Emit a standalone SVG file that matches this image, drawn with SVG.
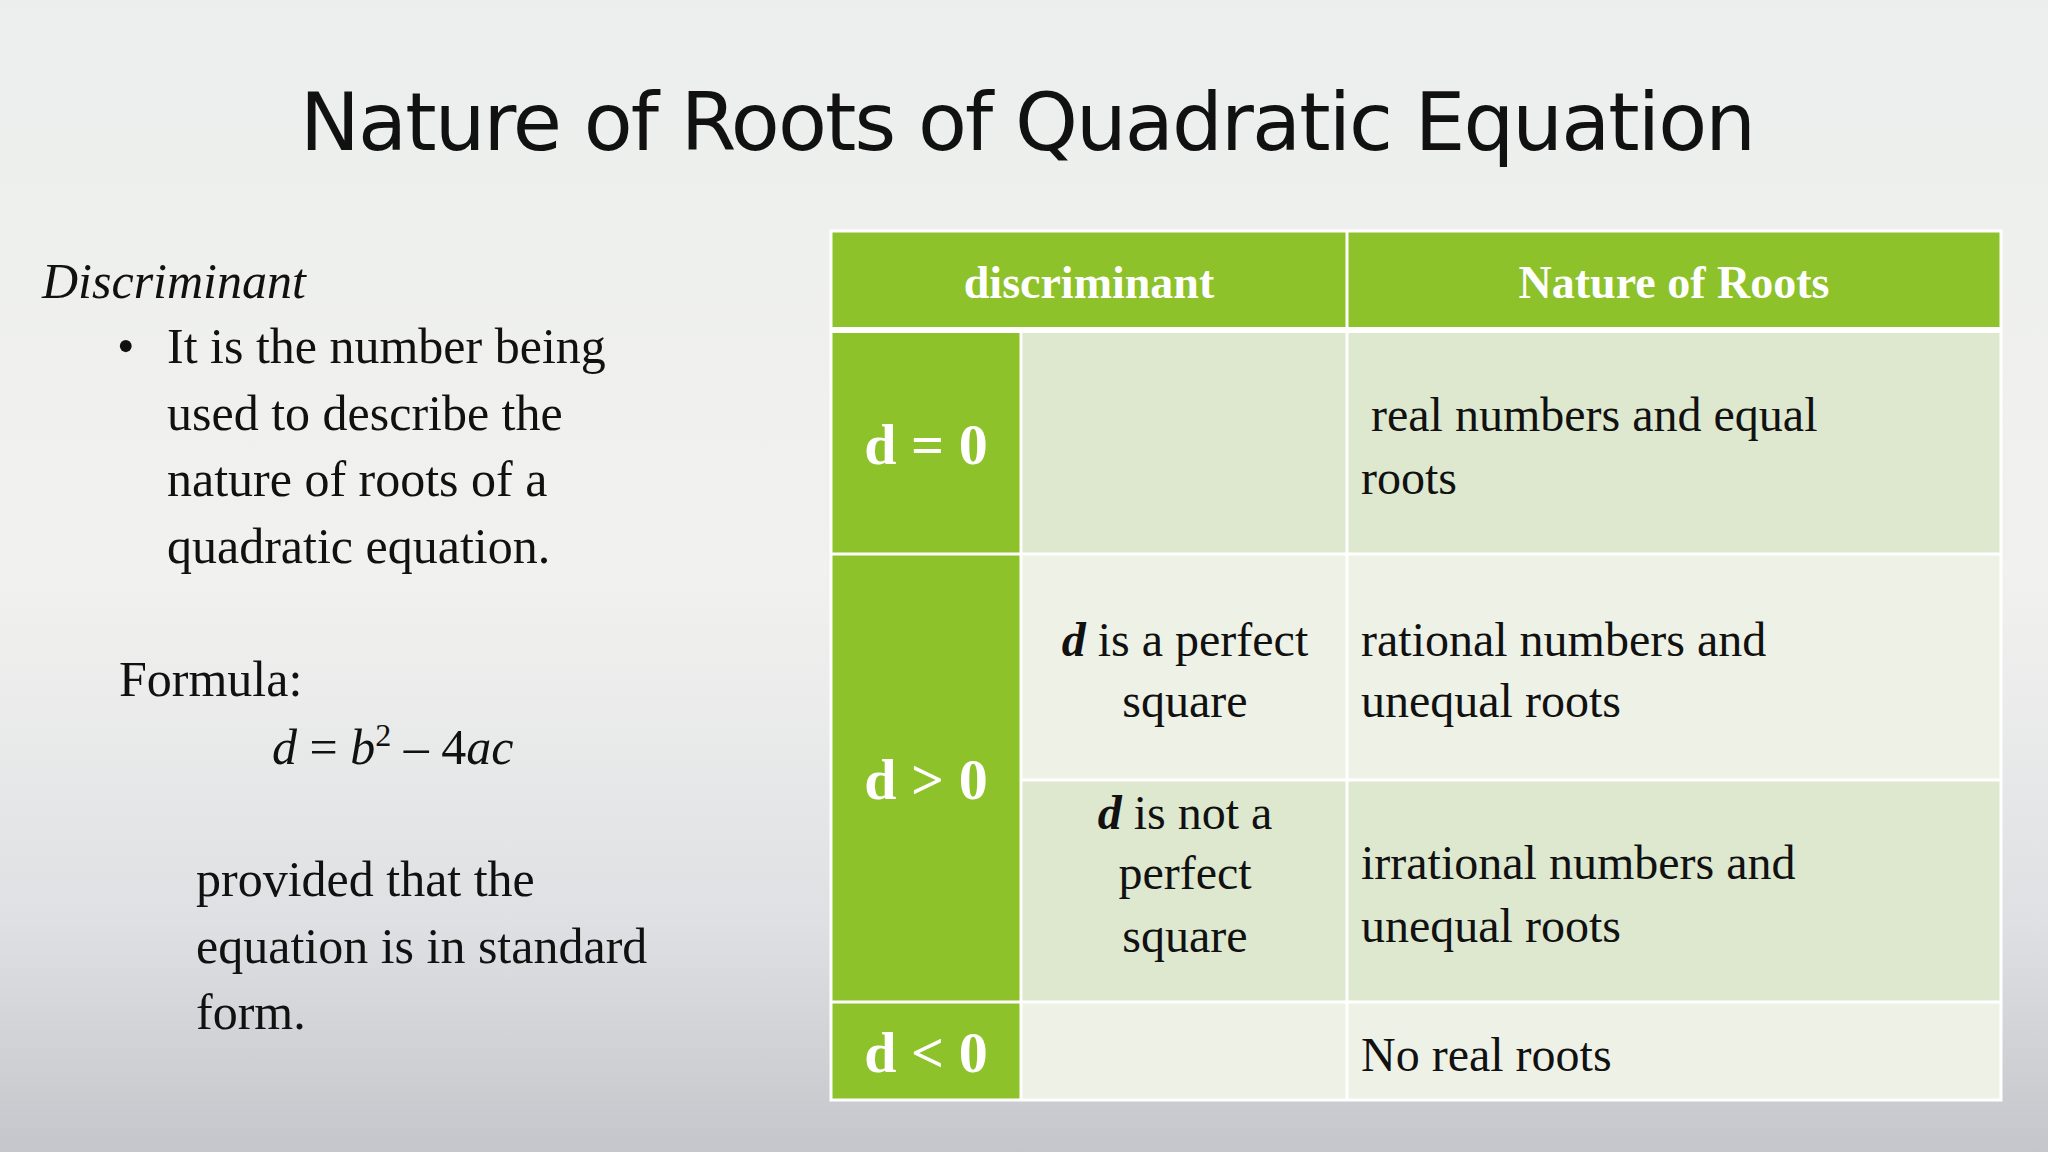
<svg xmlns="http://www.w3.org/2000/svg" width="2048" height="1152" viewBox="0 0 2048 1152">
<defs>
<linearGradient id="bg" x1="0" y1="0" x2="0" y2="1">
<stop offset="0" stop-color="#eceeed"/><stop offset="0.5" stop-color="#f1f2ef"/><stop offset="0.8" stop-color="#dfe0e3"/><stop offset="1" stop-color="#c4c6cb"/>
</linearGradient>
<style>
.t{font-family:"Liberation Serif",serif;font-size:50px;fill:#111}
.h{font-family:"Liberation Serif",serif;font-size:46px;font-weight:bold;fill:#fff}
.d{font-family:"Liberation Serif",serif;font-size:58px;font-weight:bold;fill:#fff}
.c{font-family:"Liberation Serif",serif;font-size:48px;fill:#111}
.g{fill:#8dc22a}
.l1{fill:#dde8cf}.l2{fill:#eef2e6}
</style>
</defs>
<rect width="2048" height="1152" fill="url(#bg)"/>
<text x="1028" y="150" text-anchor="middle" font-family="DejaVu Sans, sans-serif" font-size="80" fill="#111" textLength="1456">Nature of Roots of Quadratic Equation</text>
<g id="left">
<text class="t" x="42" y="298" font-style="italic">Discriminant</text>
<text class="t" x="117" y="363">•</text>
<text class="t" x="167" y="363">It is the number being</text>
<text class="t" x="167" y="430">used to describe the</text>
<text class="t" x="167" y="496">nature of roots of a</text>
<text class="t" x="167" y="563">quadratic equation.</text>
<text class="t" x="119" y="696">Formula:</text>
<text class="t" x="272" y="764" font-style="italic">d <tspan font-style="normal">=</tspan> b<tspan font-style="normal" font-size="32" dy="-18">2</tspan><tspan font-style="normal" dy="18"> – 4</tspan>ac</text>
<text class="t" x="196" y="896">provided that the</text>
<text class="t" x="196" y="963">equation is in standard</text>
<text class="t" x="196" y="1029">form.</text>
</g>
<g id="table">
<rect class="g" x="831" y="231" width="1170" height="96"/>
<rect class="g" x="831" y="333" width="190" height="767"/>
<rect class="l1" x="1021" y="333" width="980" height="221"/>
<rect class="l2" x="1021" y="554" width="980" height="226"/>
<rect class="l1" x="1021" y="780" width="980" height="222"/>
<rect class="l2" x="1021" y="1002" width="980" height="98"/>
<g stroke="#fff" stroke-width="3" fill="none">
<line x1="1347" y1="231" x2="1347" y2="1100"/>
<line x1="831" y1="330" x2="2001" y2="330" stroke-width="6"/>
<line x1="831" y1="554" x2="2001" y2="554"/>
<line x1="1021" y1="780" x2="2001" y2="780"/>
<line x1="831" y1="1002" x2="2001" y2="1002"/>
<line x1="1021" y1="333" x2="1021" y2="1100"/>
<rect x="831" y="231" width="1170" height="869"/>
</g>
<text class="h" x="1089" y="298" text-anchor="middle">discriminant</text>
<text class="h" x="1674" y="298" text-anchor="middle">Nature of Roots</text>
<text class="d" x="926" y="464" text-anchor="middle">d = 0</text>
<text class="d" x="926" y="799" text-anchor="middle">d &gt; 0</text>
<text class="d" x="926" y="1072" text-anchor="middle">d &lt; 0</text>
<text class="c" x="1371" y="431">real numbers and equal</text>
<text class="c" x="1361" y="494">roots</text>
<text class="c" x="1185" y="656" text-anchor="middle"><tspan font-weight="bold" font-style="italic">d</tspan> is a perfect</text>
<text class="c" x="1185" y="717" text-anchor="middle">square</text>
<text class="c" x="1361" y="656">rational numbers and</text>
<text class="c" x="1361" y="717">unequal roots</text>
<text class="c" x="1185" y="829" text-anchor="middle"><tspan font-weight="bold" font-style="italic">d</tspan> is not a</text>
<text class="c" x="1185" y="889" text-anchor="middle">perfect</text>
<text class="c" x="1185" y="952" text-anchor="middle">square</text>
<text class="c" x="1361" y="879">irrational numbers and</text>
<text class="c" x="1361" y="942">unequal roots</text>
<text class="c" x="1361" y="1071">No real roots</text>
</g>
</svg>
